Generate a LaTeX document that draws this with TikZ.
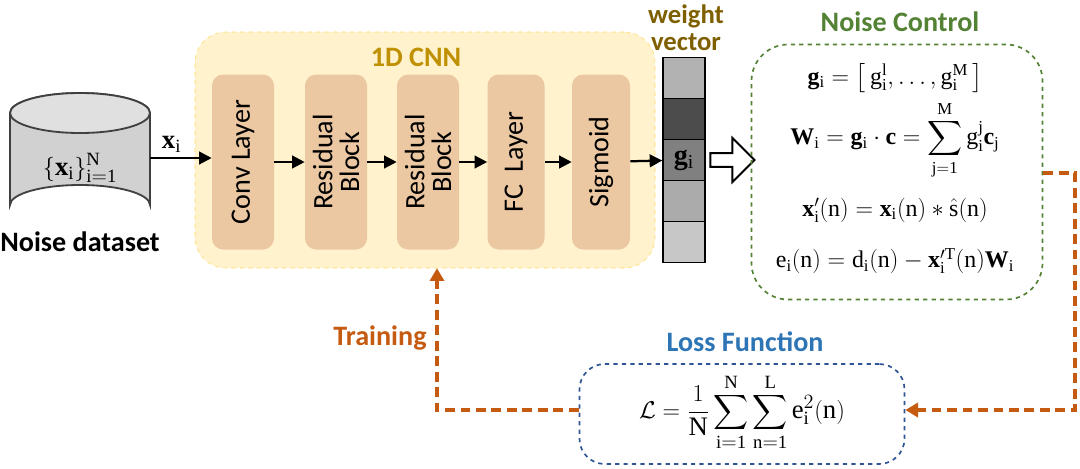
\documentclass[tikz,border=0pt]{standalone}
\usepackage{fontspec}
\usepackage{amsmath}
\setmainfont{Liberation Serif}
\newfontfamily\calfnt{Carlito}
\usetikzlibrary{shapes.geometric,shapes.arrows,arrows.meta}
\definecolor{cnnfill}{HTML}{FFF2CC}
\definecolor{cnnedge}{HTML}{FFD966}
\definecolor{blockc}{HTML}{EBC7A2}
\definecolor{olive}{HTML}{7F6000}
\definecolor{gold}{HTML}{BF9000}
\definecolor{grn}{HTML}{548235}
\definecolor{org}{HTML}{C55A11}
\definecolor{blu}{HTML}{2E75B6}
\definecolor{bludark}{HTML}{2F5597}
\tikzset{
  blk/.style={fill=blockc,rounded corners=8pt,minimum width=62*0.025cm,minimum height=175*0.025cm,inner sep=0pt},
  blt/.style={rotate=90,font=\calfnt\fontsize{20}{19}\selectfont,align=center},
  arr/.style={-{Triangle[length=9pt,width=9pt]},line width=1.6pt},
  oarr/.style={org,line width=2.4pt,dash pattern=on 7pt off 4pt,-{Triangle[length=9pt,width=10pt]}},
  cell/.style={draw,line width=1pt,minimum width=42*0.025cm,minimum height=41*0.025cm,inner sep=0pt},
  ttl/.style={font=\calfnt\bfseries\fontsize{20}{20}\selectfont},
  eq/.style={font=\fontsize{17}{20}\selectfont}
}
\begin{document}
\begin{tikzpicture}[x=0.025cm,y=-0.025cm]
\useasboundingbox (0,0) rectangle (1080,468);
% CNN box
\node[draw=cnnedge,dashed,fill=cnnfill,rounded corners=22pt,minimum width=460*0.025cm,minimum height=236*0.025cm] (cnn) at (425,150) {};
\node[ttl,text=gold] (cnnt) at (416,57) {1D CNN};
\node[blk] (b1) at (243,162) {}; \node[blt] at (b1) {Conv Layer};
\node[blk] (b2) at (336,162) {}; \node[blt] at (b2) {Residual\\Block};
\node[blk] (b3) at (428,162) {}; \node[blt] at (b3) {Residual\\Block};
\node[blk,minimum width=57*0.025cm] (b4) at (516,162) {}; \node[blt] at (b4) {FC\ \ Layer};
\node[blk,minimum width=58*0.025cm] (b5) at (601,162) {}; \node[blt] at (b5) {Sigmoid};
\draw[arr] (b1) -- (b2); \draw[arr] (b2) -- (b3); \draw[arr] (b3) -- (b4); \draw[arr] (b4) -- (b5);
% cylinder
\draw[draw=black!75,line width=1.3pt,fill=black!18] (10,113) -- (10,205) arc[start angle=180,end angle=360,x radius=70,y radius=20] -- (150,113) arc[start angle=0,end angle=-180,x radius=70,y radius=20];
\draw[draw=black!75,line width=1.3pt,fill=black!12] (80,113) ellipse[x radius=70,y radius=20];
\node[font=\fontsize{19}{20}\selectfont] (set) at (80,168) {$\left\{\mathbf{x}_{\mathrm{i}}\right\}_{\mathrm{i=1}}^{\mathrm{N}}$};
\node[font=\calfnt\bfseries\fontsize{20}{22}\selectfont] (nd) at (80,242) {Noise dataset};
\coordinate (cylr) at (150,158);
\draw[arr] (cylr) -- (b1.west|-cylr) node[pos=0.35,above,font=\fontsize{19}{20}\selectfont] {$\mathbf{x}_{\mathrm{i}}$};
% weight vector
\node[ttl,text=olive,align=center,font=\calfnt\bfseries\fontsize{19}{19}\selectfont] (wvt) at (686,28) {weight\\vector};
\node[cell,fill=black!30] (c1) at (684,78) {};
\node[cell,fill=black!70] (c2) at (684,119) {};
\node[cell,fill=black!50,font=\fontsize{20}{20}\selectfont] (c3) at (684,160) {$\mathbf{g}_{\mathrm{i}}$};
\node[cell,fill=black!33] (c4) at (684,201) {};
\node[cell,fill=black!22] (c5) at (684,242) {};
\draw[arr] (b5) -- (c3);
\node[single arrow,draw,line width=1.4pt,fill=white,minimum height=44*0.025cm,minimum width=44*0.025cm,single arrow head extend=6pt,inner sep=2pt] (ha) at (729,160) {};
% noise control
\node[draw=grn,dashed,line width=1.2pt,rounded corners=26pt,minimum width=291*0.025cm,minimum height=255*0.025cm] (nc) at (897,172) {};
\node[ttl,text=grn] (nct) at (900,22) {Noise Control};
\node[eq] (e1) at (895,78) {$\mathbf{g}_{\mathrm{i}}=\left[\,\mathrm{g}_{\mathrm{i}}^{\mathrm{l}},\ldots,\mathrm{g}_{\mathrm{i}}^{\mathrm{M}}\,\right]$};
\node[eq] (e2) at (895,140) {$\displaystyle\mathbf{W}_{\mathrm{i}}=\mathbf{g}_{\mathrm{i}}\cdot\mathbf{c}=\sum_{\mathrm{j=1}}^{\mathrm{M}}\mathrm{g}_{\mathrm{i}}^{\mathrm{j}}\mathbf{c}_{\mathrm{j}}$};
\node[eq] (e3) at (895,210) {$\mathbf{x}_{\mathrm{i}}^{\prime}(\mathrm{n})=\mathbf{x}_{\mathrm{i}}(\mathrm{n})*\hat{\mathrm{s}}(\mathrm{n})$};
\node[eq] (e4) at (895,261) {$\mathrm{e}_{\mathrm{i}}(\mathrm{n})=\mathrm{d}_{\mathrm{i}}(\mathrm{n})-\mathbf{x}_{\mathrm{i}}^{\prime\mathrm{T}}(\mathrm{n})\mathbf{W}_{\mathrm{i}}$};
% loss
\node[draw=bludark,dashed,line width=1.2pt,rounded corners=18pt,minimum width=325*0.025cm,minimum height=100*0.025cm] (loss) at (742,414) {};
\node[ttl,text=blu] (losst) at (745,342) {Loss Function};
\node[font=\fontsize{19}{22}\selectfont] (le) at (742,412) {$\displaystyle\mathcal{L}=\frac{1}{\mathrm{N}}\sum_{\mathrm{i=1}}^{\mathrm{N}}\sum_{\mathrm{n=1}}^{\mathrm{L}}\mathrm{e}_{\mathrm{i}}^{2}(\mathrm{n})$};
% feedback
\coordinate (k1) at (1075,173);
\coordinate (k2) at (1075,410);
\draw[oarr] (nc.east|-k1) -- (k1) -- (k2) -- (loss.east|-k2);
\coordinate (k3) at (437,410);
\draw[oarr] (loss.west|-k3) -- (k3) -- (k3|-cnn.south);
\node[ttl,text=org] (tr) at (380,338) {Training};
\end{tikzpicture}
\end{document}
